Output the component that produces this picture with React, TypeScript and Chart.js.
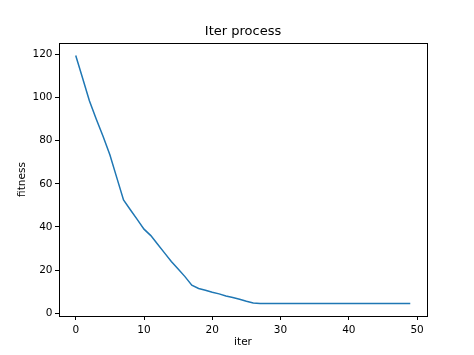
import React, { useEffect, useRef } from "react";
import { Chart, registerables } from "chart.js";

Chart.register(...registerables);

const iterations = [
  0, 1, 2, 3, 4, 5, 6, 7, 8, 9, 10, 11, 12, 13, 14, 15, 16, 17, 18, 19, 20, 21, 22, 23, 24,
  25, 26, 27, 28, 29, 30, 31, 32, 33, 34, 35, 36, 37, 38, 39, 40, 41, 42, 43, 44, 45, 46, 47, 48, 49,
];
const fitness = [
  119.5, 109, 98.5, 90, 82, 73.5, 63, 52.5, 48, 43.5, 39, 36, 32, 28, 24, 20.5, 17, 13, 11.5, 10.7,
  9.8, 9, 8, 7.3, 6.5, 5.6, 4.8, 4.5, 4.5, 4.5, 4.5, 4.5, 4.5, 4.5, 4.5, 4.5, 4.5, 4.5, 4.5, 4.5,
  4.5, 4.5, 4.5, 4.5, 4.5, 4.5, 4.5, 4.5, 4.5, 4.5,
];
const xTicks = [0, 10, 20, 30, 40, 50];
const yTicks = [0, 20, 40, 60, 80, 100, 120];
const titleText = "Iter process";
const xLabel = "iter";
const yLabel = "fitness";

const FONT = "'DejaVu Sans', sans-serif";

export default function App() {
  const ref = useRef<HTMLCanvasElement | null>(null);
  useEffect(() => {
    const canvas = ref.current;
    if (!canvas) return;
    const framePlugin = {
      id: "frame",
      afterDraw(chart: any) {
        const { ctx, chartArea } = chart;
        ctx.save();
        ctx.strokeStyle = "#000";
        ctx.lineWidth = 1;
        ctx.strokeRect(
          Math.round(chartArea.left) + 0.5,
          Math.round(chartArea.top) + 0.5,
          Math.round(chartArea.right - chartArea.left),
          Math.round(chartArea.bottom - chartArea.top)
        );
        ctx.fillStyle = "#000";
        ctx.font = `13px ${FONT}`;
        ctx.textAlign = "center";
        ctx.textBaseline = "middle";
        ctx.fillText(titleText, (chartArea.left + chartArea.right) / 2, 32);
        ctx.restore();
      },
    };
    const chart = new Chart(canvas, {
      type: "line",
      data: {
        datasets: [
          {
            data: iterations.map((x, i) => ({ x, y: fitness[i] })),
            borderColor: "#1f77b4",
            borderWidth: 1.5,
            pointRadius: 0,
            tension: 0,
            fill: false,
          },
        ],
      },
      options: {
        responsive: false,
        animation: false,
        layout: { padding: { top: 43, right: 47, left: 0, bottom: 0 } },
        plugins: { legend: { display: false }, tooltip: { enabled: false }, title: { display: false } },
        scales: {
          x: {
            type: "linear",
            min: -2.45,
            max: 51.45,
            afterBuildTicks: (s: any) => {
              s.ticks = xTicks.map((v) => ({ value: v }));
            },
            afterFit: (s: any) => {
              s.height = 39;
            },
            grid: { drawOnChartArea: false, drawTicks: true, tickLength: 4, tickColor: "#000" },
            border: { display: false },
            ticks: {
              color: "#000",
              font: { family: FONT, size: 10.5 },
              padding: 4,
              maxRotation: 0,
              autoSkip: false,
            },
            title: {
              display: true,
              text: xLabel,
              color: "#000",
              font: { family: FONT, size: 10.5 },
              padding: { top: 0, bottom: 6 },
            },
          },
          y: {
            type: "linear",
            min: -1.25,
            max: 125.25,
            afterBuildTicks: (s: any) => {
              s.ticks = yTicks.map((v) => ({ value: v }));
            },
            afterFit: (s: any) => {
              s.width = 59;
            },
            grid: { drawOnChartArea: false, drawTicks: true, tickLength: 4, tickColor: "#000" },
            border: { display: false },
            ticks: {
              color: "#000",
              font: { family: FONT, size: 10.5 },
              padding: 2.5,
              autoSkip: false,
            },
            title: {
              display: true,
              text: yLabel,
              color: "#000",
              font: { family: FONT, size: 10.5 },
              padding: { top: 16, bottom: 0 },
            },
          },
        },
      },
      plugins: [framePlugin],
    });
    return () => chart.destroy();
  }, []);
  return (
    <div style={{ position: "fixed", left: 0, top: 0, width: 474, height: 355, background: "#fff" }}>
      <canvas ref={ref} width={474} height={355} style={{ display: "block" }} />
    </div>
  );
}
